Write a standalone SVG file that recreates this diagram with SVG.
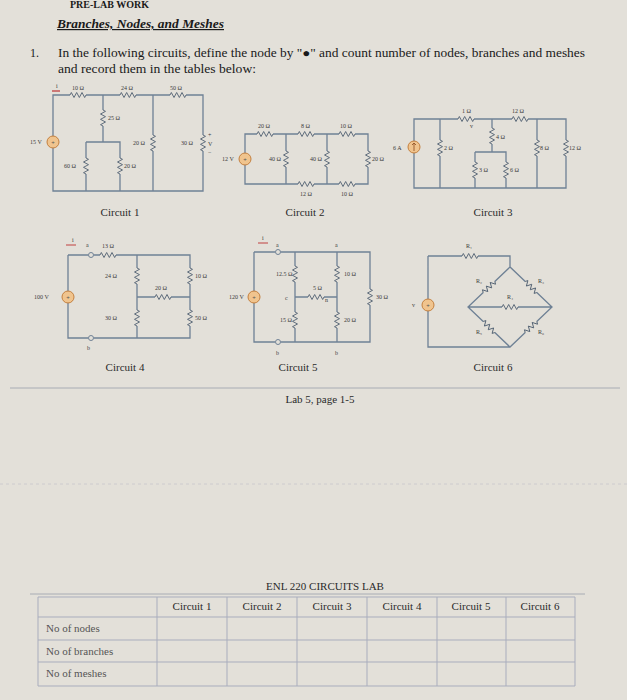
<svg xmlns="http://www.w3.org/2000/svg" xmlns:xlink="http://www.w3.org/1999/xlink" width="627" height="700" viewBox="0 0 627 700">
<style>
.w{fill:none;stroke:#6f8195;stroke-width:1.3}
.z{fill:none;stroke:#4f5f70;stroke-width:0.9}
.l{font-family:"Liberation Serif",serif;font-size:6px;fill:#3a3a3a}
.c{font-family:"Liberation Serif",serif;font-size:11px;fill:#2a2a2a}
.t{font-family:"Liberation Serif",serif;font-size:11px;fill:#1a1a1a}
.src{fill:#f0c48e;stroke:#c4803f;stroke-width:1}
.tb{fill:none;stroke:#a9adbd;stroke-width:1}
</style>
<defs>
<g id="rh"><rect x="-8" y="-2" width="16" height="4" fill="#e3e0d9"/><path class="z" d="M-8,0 l1.33,-2.5 l2.67,5 l2.67,-5 l2.67,5 l2.67,-5 l2.67,5 l1.33,-2.5"/></g>
<g id="rv"><use xlink:href="#rh" transform="rotate(90)"/></g>
<g id="vs"><circle r="6" class="src"/><text y="2" text-anchor="middle" style="font-family:'Liberation Sans',sans-serif;font-size:6px;fill:#555">+</text></g>
</defs>
<rect width="627" height="700" fill="#e3e0d9"/>
<text x="70" y="8" class="t" style="font-weight:bold;font-size:10px">PRE-LAB WORK</text>
<text x="57" y="28" class="t" textLength="167" lengthAdjust="spacingAndGlyphs" style="font-weight:bold;font-style:italic;font-size:12px;text-decoration:underline">Branches, Nodes, and Meshes</text>
<text x="30" y="57" class="t" style="font-size:12px">1.</text>
<text x="58" y="57" class="t" style="font-size:12px" textLength="527" lengthAdjust="spacingAndGlyphs">In the following circuits, define the node by "●" and count number of nodes, branches and meshes</text>
<text x="58" y="73" class="t" style="font-size:12px" textLength="198" lengthAdjust="spacingAndGlyphs">and record them in the tables below:</text>

<g id="circuit1">
<path class="w" d="M53,95H203V191H53Z M103,95V142 M86,142H120V191 M86,142V191 M153,95V191"/>
<use xlink:href="#rh" x="78" y="95"/><use xlink:href="#rh" x="128" y="95"/><use xlink:href="#rh" x="178" y="95"/>
<use xlink:href="#rv" x="103" y="118"/><use xlink:href="#rv" x="86" y="166"/><use xlink:href="#rv" x="120" y="166"/><use xlink:href="#rv" x="153" y="143"/><use xlink:href="#rv" x="203" y="143"/>
<use xlink:href="#vs" x="53" y="142"/>
<path class="w" d="M52,91H60" style="stroke:#c04040"/><text x="56" y="88" class="l">i</text>
<text x="72" y="90" class="l">10 Ω</text><text x="121" y="90" class="l">24 Ω</text><text x="170" y="90" class="l">50 Ω</text>
<text x="108" y="120" class="l">25 Ω</text><text x="64" y="168" class="l">60 Ω</text><text x="124" y="168" class="l">20 Ω</text><text x="133" y="145" class="l">20 Ω</text><text x="181" y="145" class="l">30 Ω</text>
<text x="30" y="144" class="l">15 V</text><text x="208" y="137" class="l">+</text><text x="208" y="146" class="l">V</text><text x="208" y="154" class="l">−</text>
<text x="120" y="216" class="c" text-anchor="middle">Circuit 1</text>
</g>

<g id="circuit2">
<path class="w" d="M245,134H368V184H245Z M286,134V184 M327,134V184"/>
<use xlink:href="#rh" x="265" y="134"/><use xlink:href="#rh" x="306" y="134"/><use xlink:href="#rh" x="347" y="134"/>
<use xlink:href="#rh" x="306" y="184"/><use xlink:href="#rh" x="347" y="184"/>
<use xlink:href="#rv" x="286" y="159"/><use xlink:href="#rv" x="327" y="159"/><use xlink:href="#rv" x="368" y="159"/>
<use xlink:href="#vs" x="245" y="159"/>
<text x="258" y="128" class="l">20 Ω</text><text x="301" y="128" class="l">8 Ω</text><text x="340" y="128" class="l">10 Ω</text>
<text x="269" y="161" class="l">40 Ω</text><text x="310" y="161" class="l">40 Ω</text><text x="372" y="161" class="l">20 Ω</text>
<text x="300" y="196" class="l">12 Ω</text><text x="341" y="196" class="l">10 Ω</text><text x="222" y="161" class="l">12 V</text>
<text x="305" y="216" class="c" text-anchor="middle">Circuit 2</text>
</g>

<g id="circuit3">
<path class="w" d="M414,119H566V188H414Z M440,119V188 M492,119V152 M475,152H506V188 M475,152V188 M537,119V188"/>
<use xlink:href="#rh" x="466" y="119"/><use xlink:href="#rh" x="520" y="119"/>
<use xlink:href="#rv" x="440" y="148"/><use xlink:href="#rv" x="492" y="136"/><use xlink:href="#rv" x="475" y="170"/><use xlink:href="#rv" x="506" y="170"/><use xlink:href="#rv" x="537" y="148"/><use xlink:href="#rv" x="566" y="148"/>
<circle cx="414" cy="147" r="6" class="src"/><path d="M414,151V143 M412,145L414,143L416,145" fill="none" stroke="#8a4a20" stroke-width="0.8"/>
<text x="462" y="113" class="l">1 Ω</text><text x="512" y="113" class="l">12 Ω</text><text x="496" y="139" class="l">4 Ω</text>
<text x="444" y="150" class="l">2 Ω</text><text x="479" y="172" class="l">3 Ω</text><text x="510" y="172" class="l">6 Ω</text><text x="540" y="150" class="l">8 Ω</text><text x="569" y="150" class="l">12 Ω</text>
<text x="393" y="150" class="l">6 A</text><text x="470" y="128" class="l">v</text>
<text x="493" y="216" class="c" text-anchor="middle">Circuit 3</text>
</g>

<g id="circuit4">
<path class="w" d="M68,255H88 M94,255H190V338H94 M88,338H68V255 M137,255V338 M137,297H190"/>
<circle cx="91" cy="255" r="2.5" fill="#e3e0d9" stroke="#6f8195"/><circle cx="91" cy="338" r="2.5" fill="#e3e0d9" stroke="#6f8195"/>
<use xlink:href="#rh" x="108" y="255"/><use xlink:href="#rh" x="163" y="297"/>
<use xlink:href="#rv" x="137" y="276"/><use xlink:href="#rv" x="137" y="318"/><use xlink:href="#rv" x="190" y="276"/><use xlink:href="#rv" x="190" y="318"/>
<use xlink:href="#vs" x="68" y="297"/>
<path d="M66,245H76" stroke="#c04040" stroke-width="1"/><text x="72" y="242" class="l">i</text><text x="86" y="247" class="l">a</text><text x="87" y="350" class="l">b</text>
<text x="102" y="248" class="l">13 Ω</text><text x="105" y="278" class="l">24 Ω</text><text x="155" y="290" class="l">20 Ω</text><text x="195" y="278" class="l">10 Ω</text>
<text x="105" y="320" class="l">30 Ω</text><text x="195" y="320" class="l">50 Ω</text><text x="34" y="299" class="l">100 V</text>
<text x="125" y="371" class="c" text-anchor="middle">Circuit 4</text>
</g>

<g id="circuit5">
<path class="w" d="M254,252H275 M281,252H370V342H281 M275,342H254V252 M295,252V342 M337,252V342 M295,297H337"/>
<circle cx="278" cy="252" r="2.5" fill="#e3e0d9" stroke="#6f8195"/><circle cx="278" cy="342" r="2.5" fill="#e3e0d9" stroke="#6f8195"/>
<use xlink:href="#rh" x="316" y="297"/>
<use xlink:href="#rv" x="295" y="274"/><use xlink:href="#rv" x="295" y="320"/><use xlink:href="#rv" x="337" y="274"/><use xlink:href="#rv" x="337" y="320"/><use xlink:href="#rv" x="370" y="297"/>
<use xlink:href="#vs" x="254" y="297"/>
<path d="M258,243H268" stroke="#c04040" stroke-width="1"/><text x="262" y="240" class="l">i</text><text x="276" y="247" class="l">a</text><text x="335" y="247" class="l">a</text>
<text x="285" y="300" class="l">c</text><text x="325" y="302" class="l">n</text><text x="276" y="355" class="l">b</text><text x="335" y="355" class="l">b</text>
<text x="276" y="276" class="l">12.5 Ω</text><text x="313" y="290" class="l">5 Ω</text><text x="344" y="276" class="l">10 Ω</text><text x="376" y="299" class="l">30 Ω</text>
<text x="280" y="322" class="l">15 Ω</text><text x="344" y="322" class="l">20 Ω</text><text x="229" y="299" class="l">120 V</text>
<text x="298" y="371" class="c" text-anchor="middle">Circuit 5</text>
</g>

<g id="circuit6">
<path class="w" d="M428,256H510V267 M428,256V347H510 M510,267L468,307L510,347L552,307Z M468,307H552"/>
<use xlink:href="#rh" x="470" y="256"/><use xlink:href="#rh" x="510" y="307"/>
<use xlink:href="#rh" transform="translate(489,287) rotate(-43.6)"/><use xlink:href="#rh" transform="translate(531,287) rotate(43.6)"/>
<use xlink:href="#rh" transform="translate(489,327) rotate(43.6)"/><use xlink:href="#rh" transform="translate(531,327) rotate(-43.6)"/>
<use xlink:href="#vs" x="428" y="305"/>
<text x="466" y="248" class="l">R₁</text><text x="476" y="283" class="l">R₂</text><text x="538" y="283" class="l">R₃</text><text x="507" y="299" class="l">R₄</text>
<text x="476" y="334" class="l">R₅</text><text x="538" y="334" class="l">R₆</text><text x="412" y="307" class="l">v</text>
<text x="493" y="371" class="c" text-anchor="middle">Circuit 6</text>
</g>

<path d="M10,388H620" stroke="#a8acb4" stroke-width="1"/>
<text x="320" y="403" class="c" text-anchor="middle">Lab 5, page 1-5</text>
<path d="M0,484H627" stroke="#c8c6cc" stroke-width="0.8" stroke-dasharray="3,3"/>

<g id="table">
<text x="325" y="590" class="c" text-anchor="middle">ENL 220 CIRCUITS LAB</text>
<path d="M30,594H585" stroke="#a8acb4"/>
<path class="tb" d="M38,597H575V686H38Z M38,617H575 M38,640H575 M38,662H575 M157,597V686 M227,597V686 M297,597V686 M367,597V686 M437,597V686 M506,597V686"/>
<g class="c" text-anchor="middle"><text x="192" y="610">Circuit 1</text><text x="262" y="610">Circuit 2</text><text x="332" y="610">Circuit 3</text><text x="402" y="610">Circuit 4</text><text x="471" y="610">Circuit 5</text><text x="540" y="610">Circuit 6</text></g>
<text x="46" y="632" class="c" style="fill:#555">No of nodes</text><text x="46" y="655" class="c" style="fill:#555">No of branches</text><text x="46" y="677" class="c" style="fill:#555">No of meshes</text>
</g>
</svg>
